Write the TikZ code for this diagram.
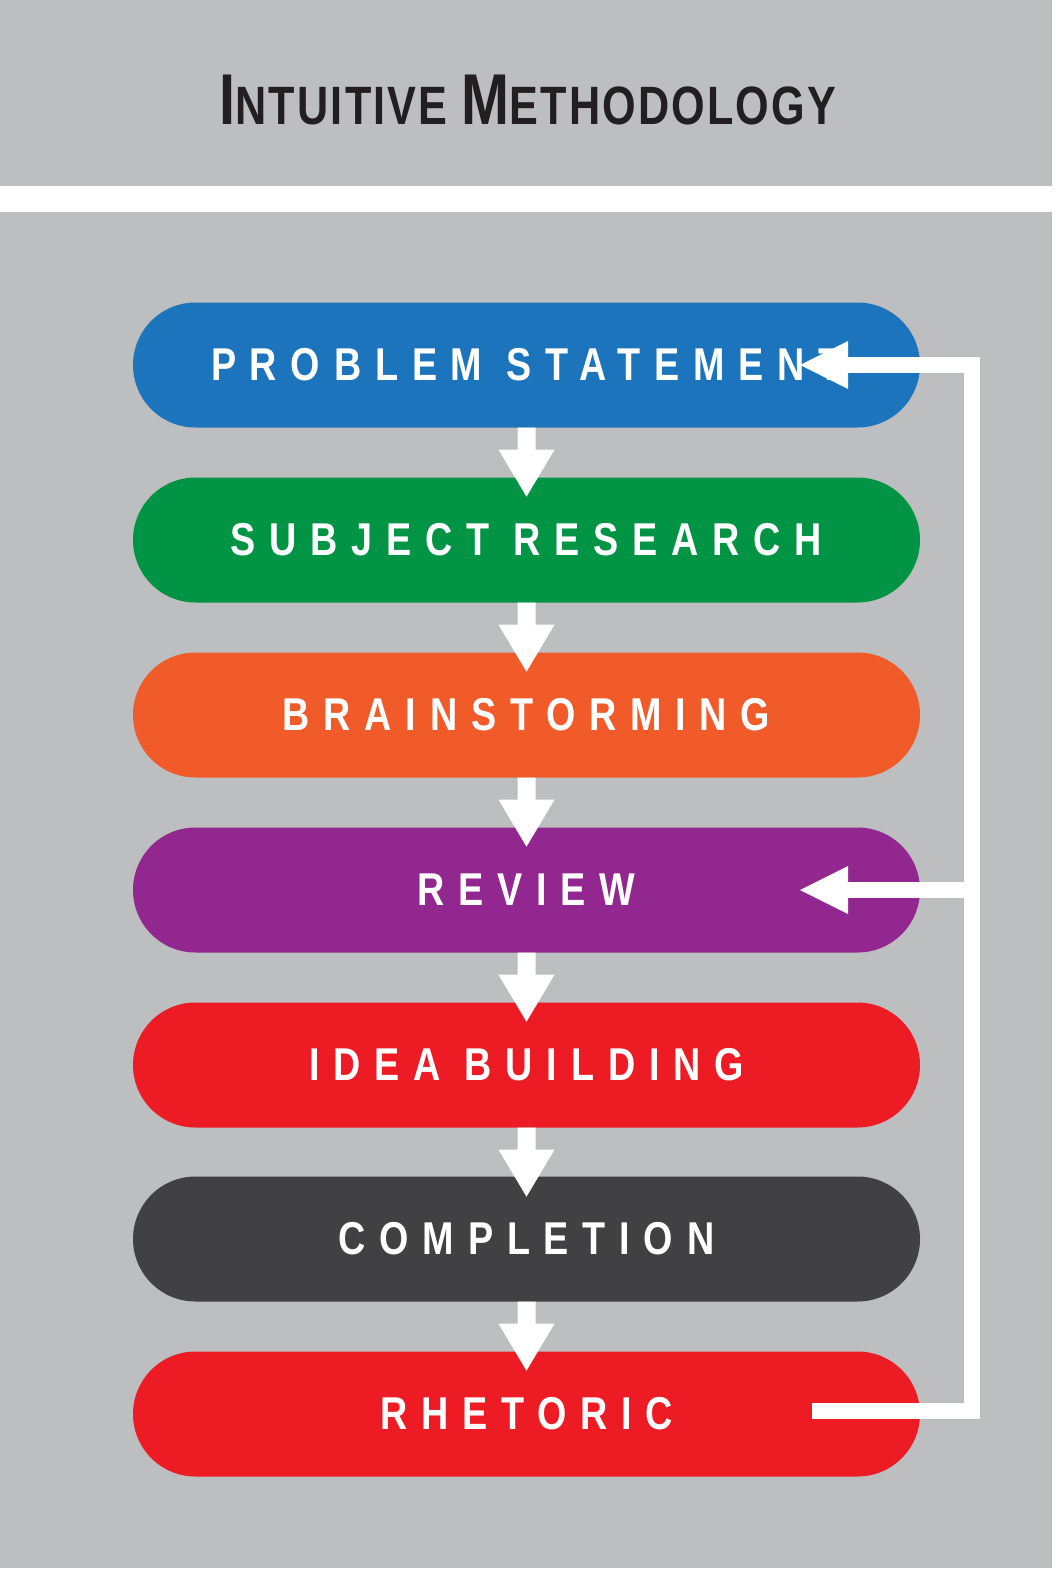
\documentclass[tikz,border=0pt]{standalone}
\usepackage{fontspec}
\setmainfont{Liberation Sans}
\newfontfamily\pillfont[FakeStretch=0.82,LetterSpace=30]{Liberation Sans Bold}
\newfontfamily\titlefont[FakeStretch=0.8,LetterSpace=4]{Liberation Sans Bold}
\definecolor{bgg}{HTML}{BCBEC0}
\definecolor{cblue}{HTML}{1C75BC}
\definecolor{cgreen}{HTML}{009444}
\definecolor{corange}{HTML}{F15A29}
\definecolor{cpurple}{HTML}{92278F}
\definecolor{cred}{HTML}{ED1C24}
\definecolor{cdark}{HTML}{414042}
\definecolor{ctitle}{HTML}{231F20}
\begin{document}
\begin{tikzpicture}[x=1pt,y=-1pt,
  pill/.style={rounded rectangle, minimum width=787pt, minimum height=125pt, inner sep=0pt, text=white, font=\pillfont\fontsize{46}{46}\selectfont},
  darrow/.style={fill=white, draw=none},
  loopline/.style={draw=white, line width=16pt}]
\usetikzlibrary{shapes.misc}
\fill[white] (0,0) rectangle (1055,1571);
\useasboundingbox (0,0) rectangle (1055,1571);
\fill[bgg] (0,0) rectangle (1052,186);
\fill[bgg] (0,212) rectangle (1052,1568);
\node[text=ctitle, font=\titlefont] (title) at (528,100) {\fontsize{72}{72}\selectfont I\fontsize{54}{54}\selectfont NTUITIVE \fontsize{72}{72}\selectfont M\fontsize{54}{54}\selectfont ETHODOLOGY};
\foreach \n/\y/\c/\t in {p1/365/cblue/PROBLEM STATEMENT, p2/540/cgreen/SUBJECT RESEARCH, p3/715/corange/BRAINSTORMING, p4/890/cpurple/REVIEW, p5/1065/cred/IDEA BUILDING, p6/1239/cdark/COMPLETION, p7/1414/cred/RHETORIC}
  \node[pill, fill=\c] (\n) at (526.5,\y) {\t};
\foreach \a/\b in {p1/p2,p2/p3,p3/p4,p4/p5,p5/p6,p6/p7}{
  \fill[white] ([xshift=-9pt]\a.south) -- ([xshift=9pt]\a.south) -- ([xshift=9pt,yshift=-22pt]\a.south) -- ([xshift=28pt,yshift=-22pt]\a.south) -- ([yshift=-69pt]\a.south) -- ([xshift=-28pt,yshift=-22pt]\a.south) -- ([xshift=-9pt,yshift=-22pt]\a.south) -- cycle;
}
\coordinate (s) at (812,1411);
\coordinate (c1) at (972,1411);
\coordinate (c2) at (972,365);
\coordinate (t1) at (846,365);
\coordinate (c3) at (972,890);
\coordinate (t2) at (846,890);
\draw[loopline, line cap=butt] (s) -- (c1) -- (c2) -- (t1);
\draw[loopline] (c3) -- (t2);
\fill[white] (800,365) -- (848,341) -- (848,389) -- cycle;
\fill[white] (800,890) -- (848,866) -- (848,914) -- cycle;
\end{tikzpicture}
\end{document}
